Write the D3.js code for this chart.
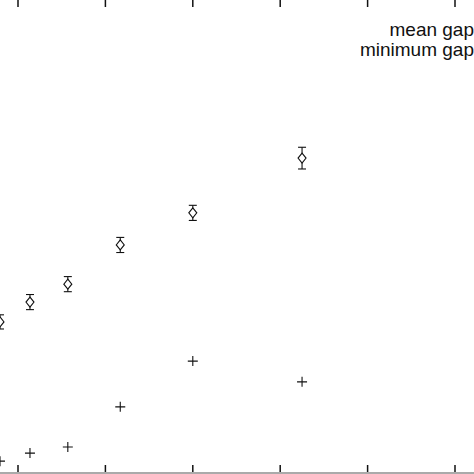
<html>
<head>
<script src="https://d3js.org/d3.v7.min.js"></script>
<style>body{margin:0;background:#fff}</style>
</head>
<body>
<svg id="chart" width="474" height="474"></svg>
<script>
const xs = [-0.206, 0.137, 0.57, 1.17, 2.0, 3.25];
const meanGap = [31.8, 36.0, 39.8, 48.1, 54.9, 66.5];
const meanErr = [1.5, 1.6, 1.6, 1.6, 1.6, 2.3];
const minGap = [2.3, 4.0, 5.3, 13.8, 23.5, 19.1];
const xTicks = [0, 1, 2, 3, 4, 5];

const svg = d3.select("#chart");
const x = d3.scaleLinear().domain([0, 5]).range([18, 455]);
const y = d3.scaleLinear().domain([0, 100]).range([472, 0]);

svg.append("line").attr("x1", 0).attr("x2", 474).attr("y1", 473).attr("y2", 473)
  .attr("stroke", "#aaa").attr("stroke-width", 2);

const g = svg.append("g").attr("stroke", "#111").attr("stroke-width", 1.5);
xTicks.forEach(t => {
  g.append("line").attr("x1", x(t)).attr("x2", x(t)).attr("y1", 0).attr("y2", 7);
  g.append("line").attr("x1", x(t)).attr("x2", x(t)).attr("y1", 465).attr("y2", 472);
});

const pts = g.append("g").attr("stroke-width", 1.1).attr("fill", "none");
xs.forEach((xv, i) => {
  const cx = x(xv), cy = y(meanGap[i]);
  const t = y(meanGap[i] + meanErr[i]), b = y(meanGap[i] - meanErr[i]);
  pts.append("line").attr("x1", cx).attr("x2", cx).attr("y1", t).attr("y2", b);
  pts.append("line").attr("x1", cx - 4).attr("x2", cx + 4).attr("y1", t).attr("y2", t);
  pts.append("line").attr("x1", cx - 4).attr("x2", cx + 4).attr("y1", b).attr("y2", b);
  pts.append("path").attr("d", `M${cx},${cy-5}L${cx+4},${cy}L${cx},${cy+5}L${cx-4},${cy}Z`)
    .attr("fill", "#fff");
  const my = y(minGap[i]);
  pts.append("path").attr("d", `M${cx-5},${my}H${cx+5}M${cx},${my-5}V${my+5}`);
});

svg.append("text").attr("x", 474).attr("y", 36).attr("text-anchor", "end")
  .attr("font-family", "Liberation Sans, Arial").attr("font-size", 19).attr("fill", "#111").text("mean gap");
svg.append("text").attr("x", 474).attr("y", 56).attr("text-anchor", "end")
  .attr("font-family", "Liberation Sans, Arial").attr("font-size", 19).attr("fill", "#111").text("minimum gap");
</script>
</body>
</html>
